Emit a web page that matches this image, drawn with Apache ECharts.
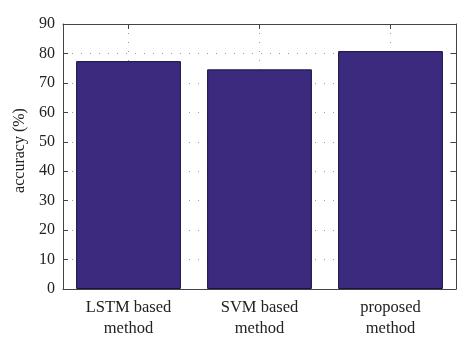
<!DOCTYPE html>
<html><head><meta charset="utf-8">
<script src="https://cdn.jsdelivr.net/npm/echarts@6/dist/echarts.min.js"></script>
<style>html,body{margin:0;padding:0;background:#fff}#c{width:474px;height:347px}</style>
</head><body><div id="c"></div>
<script>
const categories = ['LSTM based\nmethod', 'SVM based\nmethod', 'proposed\nmethod'];
const accuracy = [77.4, 74.6, 80.8];
const yTicks = [0, 10, 20, 30, 40, 50, 60, 70, 80, 90];

const font = 'Liberation Serif';
const chart = echarts.init(document.getElementById('c'));
const axisLine = {show: true, onZero: false, lineStyle: {color: '#444', width: 1}};
const gridLine = {show: true, lineStyle: {color: '#999', type: [1, 8], width: 1}};
chart.setOption({
  animation: false,
  grid: {left: 63, right: 18, top: 24, bottom: 58},
  xAxis: [
    {type: 'category', data: categories, position: 'bottom',
     axisLine: axisLine,
     axisTick: {show: true, inside: true, alignWithLabel: true, length: 5, lineStyle: {color: '#444'}},
     axisLabel: {fontFamily: font, fontSize: 16.5, color: '#222', lineHeight: 21, margin: 8},
     splitLine: {show: false}},
    {type: 'category', data: categories, position: 'top',
     axisLine: axisLine,
     axisTick: {show: true, inside: true, alignWithLabel: true, length: 5, lineStyle: {color: '#444'}},
     axisLabel: {show: false},
     splitLine: {show: true, alignWithLabel: true, lineStyle: {color: '#999', type: [1, 8], width: 1}}}
  ],
  yAxis: [
    {type: 'value', min: 0, max: 90, interval: 10, position: 'left',
     name: 'accuracy (%)', nameLocation: 'middle', nameGap: 33, nameRotate: 90,
     nameTextStyle: {fontFamily: font, fontSize: 16, color: '#222', padding: [0, 0, 0, 12]},
     axisLine: axisLine,
     axisTick: {show: true, inside: true, length: 5, lineStyle: {color: '#444'}},
     axisLabel: {fontFamily: font, fontSize: 16, color: '#222', margin: 8,
       formatter: v => yTicks.includes(v) ? String(v) : ''},
     splitLine: gridLine},
    {type: 'value', min: 0, max: 90, interval: 10, position: 'right',
     axisLine: axisLine,
     axisTick: {show: true, inside: true, length: 5, lineStyle: {color: '#444'}},
     axisLabel: {show: false}, splitLine: {show: false}}
  ],
  series: [{
    type: 'bar', data: accuracy, xAxisIndex: 0, yAxisIndex: 0,
    barWidth: '80%',
    itemStyle: {color: '#3b2a7e', borderColor: '#1a1240', borderWidth: 1}
  }]
});
</script></body></html>
